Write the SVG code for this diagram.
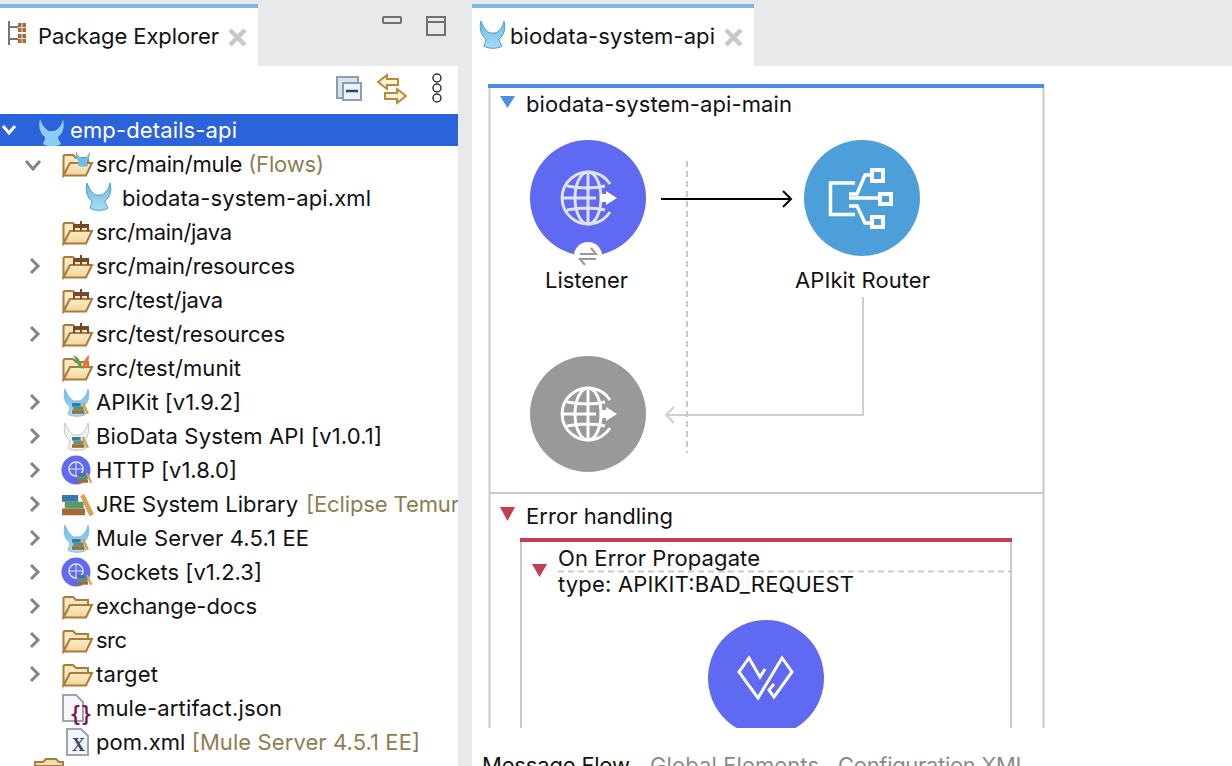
<svg xmlns="http://www.w3.org/2000/svg" width="1232" height="766" viewBox="0 0 1232 766">
<style>
text{font-family:"Inter","Roboto","Liberation Sans",sans-serif;font-size:22px;fill:#111}
.dec{fill:#8f7d50}
.mute{fill:#8b8b8b}
.chev{fill:none;stroke:#858585;stroke-width:3}
.box{fill:none;stroke:#c9c9c9;stroke-width:2}
.dash{fill:none;stroke:#c9c9c9;stroke-width:2;stroke-dasharray:6 4}
</style>
<defs>
<clipPath id="treeClip"><rect x="0" y="66" width="458" height="700"/></clipPath>
<linearGradient id="fold" x1="0" y1="0" x2="0" y2="1"><stop offset="0" stop-color="#fbecc6"/><stop offset="1" stop-color="#f3d596"/></linearGradient>
<linearGradient id="mule" x1="0" y1="0" x2="0" y2="1"><stop offset="0" stop-color="#6db9e8"/><stop offset="1" stop-color="#a9dcf5"/></linearGradient>
<g id="folder">
<path d="M1.500 21V2.500Q1.500 1 3 1H11L14 4H26V10H8Z" fill="#f9e7bd" stroke="#ab7a3e" stroke-width="2"/>
<path d="M1.500 21.500 8 9H30L24 21.500Z" fill="url(#fold)" stroke="#ab7a3e" stroke-width="2"/>
</g>
<g id="pkg"><path d="M12 9V3H26V9M19-1V9M12 5H26" fill="none" stroke="#74492b" stroke-width="2"/></g>
<path id="head" d="M2 0C0 8 2 14 7 18 7 21 5 24 5 25 9 28 19 28 23 25 22 23 20 20 20 18 25 14 27 8 25 0 24 6 20 11 16 12H11C8 11 4 6 2 0Z"/>
<g id="books">
<rect x="0" y="10" width="17" height="5" fill="#a9683a"/><rect x="2" y="5" width="14" height="5" fill="#5a9b68"/><rect x="0" y="0" width="12" height="5" fill="#3f76a8"/>
<path d="M15 0 22 15" stroke="#d9a24e" stroke-width="3.500"/>
</g>
<g id="globe" fill="none" stroke-width="3">
<path d="M22-14A26 26 0 1 0 22 14"/>
<ellipse cx="0" cy="0" rx="13" ry="26"/>
<path d="M0-26V26M-26 0H8M-21-12Q0-8 17-12M-21 12Q0 8 17 12"/>
<path d="M12-4H18V-7L29 0 18 7V4H12Z" fill="#fff" stroke="none"/>
</g>
<path id="chevR" class="chev" d="M31 -7 38 0 31 7"/>
</defs>

<rect width="1232" height="766" fill="#e8e9eb"/>
<rect x="0" y="66" width="458" height="700" fill="#fff"/>
<rect x="472" y="66" width="760" height="700" fill="#fff"/>

<g id="package-explorer-tab">
<rect x="0" y="4" width="258" height="62" fill="#fff"/>
<rect x="0" y="4" width="258" height="4" fill="#7fb7df"/>
<path d="M9 21V45M9 27H19M9 39H19" fill="none" stroke="#71767e" stroke-width="2"/>
<g fill="#a9683a"><rect x="18" y="23" width="8" height="9"/><rect x="18" y="34" width="8" height="9"/></g>
<path d="M22 23v20M18 27.500h8M18 38.500h8" stroke="#f3dfc2" stroke-width="1"/>
<text x="38" y="44" textLength="181">Package Explorer</text>
<path d="M230 30 245 45M245 30 230 45" stroke="#c9c9c9" stroke-width="4.500" fill="none"/>
</g>
<g id="window-controls" fill="none" stroke="#707070" stroke-width="2">
<rect x="383" y="17" width="18" height="6" rx="1"/>
<rect x="427" y="17" width="18" height="18"/><path d="M427 22H445"/>
</g>
<g id="view-toolbar">
<rect x="337" y="77" width="21" height="21" fill="#dbe3ea" stroke="#8d9cb0" stroke-width="2"/>
<rect x="343" y="83" width="18" height="17" fill="#eef3f6" stroke="#8d9cb0" stroke-width="2"/>
<path d="M346 91H358" stroke="#1f4a80" stroke-width="2.500"/>
<path d="M378 82 387 75V79H398V85H387V89Z" fill="#fdf3d6" stroke="#b98a35" stroke-width="2"/>
<path d="M406 96 397 89V93H385V99H397V103Z" fill="#fdf3d6" stroke="#b98a35" stroke-width="2"/>
<g fill="none" stroke="#333" stroke-width="1.500"><circle cx="437" cy="78" r="4"/><circle cx="437" cy="88" r="4"/><circle cx="437" cy="98" r="4"/></g>
</g>

<g id="tree" clip-path="url(#treeClip)">
<g id="row-emp-details-api">
<rect x="0" y="114" width="458" height="32" fill="#2b63db"/>
<path d="M3 126 9 133 15 126" fill="none" stroke="#fff" stroke-width="3"/>
<use href="#head" x="38" y="119" fill="#8fcbf0"/>
<text x="70" y="138" textLength="167" style="fill:#fff">emp-details-api</text>
</g>
<g id="row-src-main-mule">
<path class="chev" d="M26 161 33 169 40 161"/>
<use href="#folder" x="62" y="154"/>
<use href="#head" transform="translate(75 151) scale(.58)" fill="#6fbfea"/>
<text x="96" y="172" textLength="228">src/main/mule <tspan class="dec">(Flows)</tspan></text>
</g>
<g id="row-biodata-xml">
<use href="#head" x="85" y="183" fill="url(#mule)" stroke="#4a9ad0" stroke-width="1"/>
<text x="122" y="206" textLength="249">biodata-system-api.xml</text>
</g>
<g id="row-src-main-java"><use href="#folder" x="62" y="222"/><use href="#pkg" x="62" y="222"/><text x="96" y="240" textLength="136">src/main/java</text></g>
<g id="row-src-main-resources"><use href="#chevR" y="266"/><use href="#folder" x="62" y="256"/><use href="#pkg" x="62" y="256"/><text x="96" y="274" textLength="199">src/main/resources</text></g>
<g id="row-src-test-java"><use href="#folder" x="62" y="290"/><use href="#pkg" x="62" y="290"/><text x="96" y="308" textLength="127">src/test/java</text></g>
<g id="row-src-test-resources"><use href="#chevR" y="334"/><use href="#folder" x="62" y="324"/><use href="#pkg" x="62" y="324"/><text x="96" y="342" textLength="189">src/test/resources</text></g>
<g id="row-src-test-munit"><use href="#folder" x="62" y="358"/>
<path d="M74 355C79 358 82 363 82 369 78 366 75 361 74 355Z" fill="#4fa05a"/><path d="M89 355C89 361 87 366 83 369 82 364 85 358 89 355Z" fill="#ed7233"/>
<text x="96" y="376" textLength="145">src/test/munit</text></g>
<g id="row-apikit"><use href="#chevR" y="402"/><use href="#head" x="63" y="389" fill="url(#mule)" stroke="#7fbde4"/><use href="#books" transform="translate(72 403) scale(.72)"/><text x="96" y="410" textLength="145">APIKit [v1.9.2]</text></g>
<g id="row-biodata-api"><use href="#chevR" y="436"/><use href="#head" x="63" y="423" fill="#f2f2f2" stroke="#c2c2c2"/><use href="#books" transform="translate(72 437) scale(.72)"/><text x="96" y="444" textLength="286">BioData System API [v1.0.1]</text></g>
<g id="row-http"><use href="#chevR" y="470"/><circle cx="76" cy="470" r="14.500" fill="#5f69f1"/><circle cx="76" cy="469" r="7" fill="none" stroke="#e6e8fb" stroke-width="1.500"/><path d="M69 469H83M76 462V476" stroke="#e6e8fb"/><use href="#books" transform="translate(77 473) scale(.65)"/><text x="96" y="478" textLength="141">HTTP [v1.8.0]</text></g>
<g id="row-jre"><use href="#chevR" y="504"/><use href="#books" transform="translate(62 495) scale(1.350)"/><text x="96" y="512" textLength="202">JRE System Library</text><text x="306" y="512" class="dec" textLength="153">[Eclipse Temur</text></g>
<g id="row-mule-server"><use href="#chevR" y="538"/><use href="#head" x="63" y="525" fill="url(#mule)" stroke="#7fbde4"/><use href="#books" transform="translate(72 539) scale(.72)"/><text x="96" y="546" textLength="213">Mule Server 4.5.1 EE</text></g>
<g id="row-sockets"><use href="#chevR" y="572"/><circle cx="76" cy="572" r="14.500" fill="#5f69f1"/><circle cx="76" cy="571" r="7" fill="none" stroke="#e6e8fb" stroke-width="1.500"/><path d="M69 571H83M76 564V578" stroke="#e6e8fb"/><use href="#books" transform="translate(77 575) scale(.65)"/><text x="96" y="580" textLength="166">Sockets [v1.2.3]</text></g>
<g id="row-exchange-docs"><use href="#chevR" y="606"/><use href="#folder" x="62" y="596"/><text x="96" y="614" textLength="161">exchange-docs</text></g>
<g id="row-src"><use href="#chevR" y="640"/><use href="#folder" x="62" y="630"/><text x="96" y="648" textLength="31">src</text></g>
<g id="row-target"><use href="#chevR" y="674"/><use href="#folder" x="62" y="664"/><text x="96" y="682" textLength="62">target</text></g>
<g id="row-mule-artifact">
<path d="M63 695H76L83 702V721H63Z" fill="#f4f6fa" stroke="#9aa6b5" stroke-width="2"/>
<text x="70" y="721" style="font-family:'DejaVu Sans Mono',monospace;font-size:21px;font-weight:700;fill:#7b1650" textLength="22" lengthAdjust="spacingAndGlyphs">{}</text>
<text x="96" y="716" textLength="186">mule-artifact.json</text></g>
<g id="row-pom">
<path d="M67 729H81L88 736V755H67Z" fill="#f4f6fa" stroke="#9aa6b5" stroke-width="2"/>
<text x="72" y="751" style="font-family:'Liberation Serif',serif;font-size:18px;font-weight:700;fill:#2e4a70">X</text>
<text x="96" y="750" textLength="324">pom.xml <tspan class="dec">[Mule Server 4.5.1 EE]</tspan></text></g>
<g id="row-partial"><path d="M35 766V762H43L46 759H56L59 762H63V766Z" fill="#f3dfae" stroke="#ab7a3e" stroke-width="2"/></g>
</g>

<g id="editor-tab">
<rect x="472" y="4" width="282" height="62" fill="#fff"/>
<rect x="472" y="4" width="282" height="4" fill="#7fb7df"/>
<use href="#head" x="479" y="21" fill="url(#mule)" stroke="#4a9ad0"/>
<text x="510" y="44" textLength="205">biodata-system-api</text>
<path d="M726 30 741 45M741 30 726 45" stroke="#c9c9c9" stroke-width="4.500" fill="none"/>
</g>

<g id="flow-container">
<path class="box" d="M489.500 86V728M1043.500 86V728M489 493H1044"/>
<rect x="488" y="84" width="556" height="4" fill="#4a8ee3"/>
<path d="M500 96H515L507.500 108Z" fill="#4a8ee3"/>
<text x="526" y="112" textLength="266">biodata-system-api-main</text>
<path class="dash" d="M687 161V453"/>
</g>

<g id="connectors" fill="none">
<path d="M661 199H791" stroke="#000" stroke-width="2"/>
<path d="M783 191 791 199 783 207" stroke="#000" stroke-width="2"/>
<path d="M863 297V415H666" stroke="#cfcfcf" stroke-width="2"/>
<path d="M674 407 666 415 674 423" stroke="#cfcfcf" stroke-width="2"/>
</g>

<g id="node-listener">
<circle cx="588" cy="198" r="58" fill="#5f69f1"/>
<circle cx="588" cy="256" r="14" fill="#fff"/>
<rect x="570" y="256" width="36" height="16" fill="#fff"/>
<path d="M580 254H596L591 248M596 259H580L585 265" fill="none" stroke="#999" stroke-width="2"/>
<use href="#globe" x="588" y="198" stroke="#dfe2f8"/>
<text x="545" y="288" textLength="83">Listener</text>
</g>
<g id="node-apikit-router">
<circle cx="862" cy="198" r="58" fill="#4c9fd8"/>
<g fill="none" stroke="#fff" stroke-width="3.500">
<path d="M855 183H830.500V214.500H855"/>
<path d="M849 194H857L865 175H872M849 198H880M849 206H857L865 223H872"/>
<g stroke-width="4"><rect x="872" y="170" width="11" height="11"/><rect x="880" y="194" width="11" height="10"/><rect x="872" y="217" width="11" height="10"/></g>
</g>
<text x="795" y="288" textLength="135">APIkit Router</text>
</g>
<g id="node-source-response">
<circle cx="588" cy="414" r="58" fill="#999"/>
<use href="#globe" x="588" y="414" stroke="#fff"/>
</g>

<g id="error-handling">
<path d="M500 507H515L507.500 521Z" fill="#c23f52"/>
<text x="526" y="524" textLength="147">Error handling</text>
</g>
<g id="on-error-propagate">
<path class="box" d="M521 541V728M1011 541V728"/>
<rect x="520" y="538" width="492" height="4" fill="#c23f52"/>
<path d="M532 564H547L539.500 577Z" fill="#c23f52"/>
<text x="558" y="566" textLength="202">On Error Propagate</text>
<path class="dash" d="M558 571.500H1011"/>
<text x="558" y="592" textLength="296">type: APIKIT:BAD_REQUEST</text>
</g>
<g id="node-error-action">
<path d="M736.600 728A58 58 0 1 1 795.400 728Z" fill="#5f69f1"/>
<path d="M765 669 760 677 749 658 739 672 758 698 782 658 792 672 774 697 769 690 774 684" fill="none" stroke="#fff" stroke-width="3"/>
</g>

<g id="editor-tabs">
<text x="482" y="773" textLength="148">Message Flow</text>
<text x="650" y="773" class="mute" textLength="169">Global Elements</text>
<text x="838" y="773" class="mute" textLength="190">Configuration XML</text>
</g>
</svg>
